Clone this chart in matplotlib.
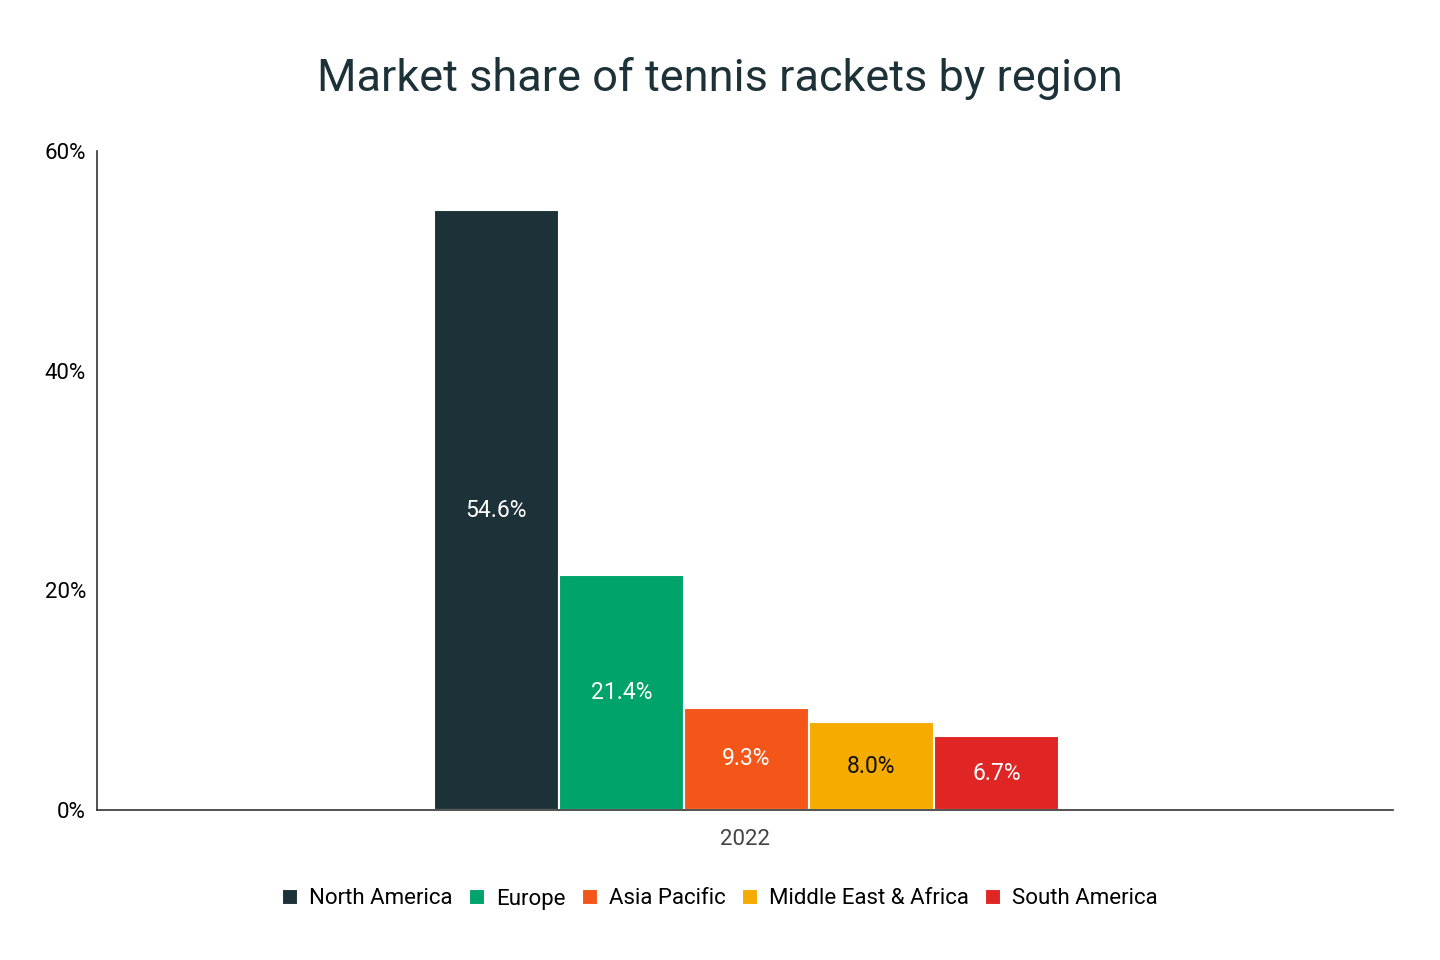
import matplotlib.pyplot as plt
import numpy as np

plt.rcParams['font.family'] = ['Roboto', 'DejaVu Sans']

# data
regions = ['North America', 'Europe', 'Asia Pacific', 'Middle East & Africa', 'South America']
shares = [54.6, 21.4, 9.3, 8.0, 6.7]
year = '2022'
colors = ['#1c3238', '#00a36a', '#f4561a', '#f5ab00', '#e02525']
label_colors = ['white', 'white', 'white', '#111111', 'white']

fig = plt.figure(figsize=(14.4, 9.6), dpi=100)
ax = fig.add_axes([0.0674, 0.15625, 0.9, 0.6865])

n = len(regions)
slot = 0.4825 / n
offsets = (np.arange(n) - (n - 1) / 2) * slot + 0.001
for i in range(n):
    ax.bar(offsets[i], shares[i], width=slot, color=colors[i],
           edgecolor='white', linewidth=1.5, label=regions[i])
    ax.text(offsets[i], shares[i] / 2, '%.1f%%' % shares[i], ha='center', va='center',
            color=label_colors[i], fontsize=16.5)

ax.set_xlim(-0.5, 0.5)
ax.set_ylim(0, 60)
ax.set_yticks([0, 20, 40, 60])
ax.set_yticklabels(['0%', '20%', '40%', '60%'])
ax.set_xticks([0])
ax.set_xticklabels([year], color='#444444')
ax.tick_params(axis='both', length=0, labelsize=16)
ax.tick_params(axis='y', pad=8)
ax.tick_params(axis='x', pad=14)
for s in ['top', 'right']:
    ax.spines[s].set_visible(False)
for s in ['left', 'bottom']:
    ax.spines[s].set_color('#333333')
    ax.spines[s].set_linewidth(1.2)

fig.suptitle('Market share of tennis rackets by region', fontsize=32.5, color='#1c3238',
             y=1 - 79 / 960, va='center')

fig.legend(loc='center', bbox_to_anchor=(0.5, 1 - 899 / 960), ncol=5, frameon=False,
           fontsize=16, handlelength=0.7, handleheight=0.7, handletextpad=0.5,
           columnspacing=0.75)

fig.savefig('out.png')
